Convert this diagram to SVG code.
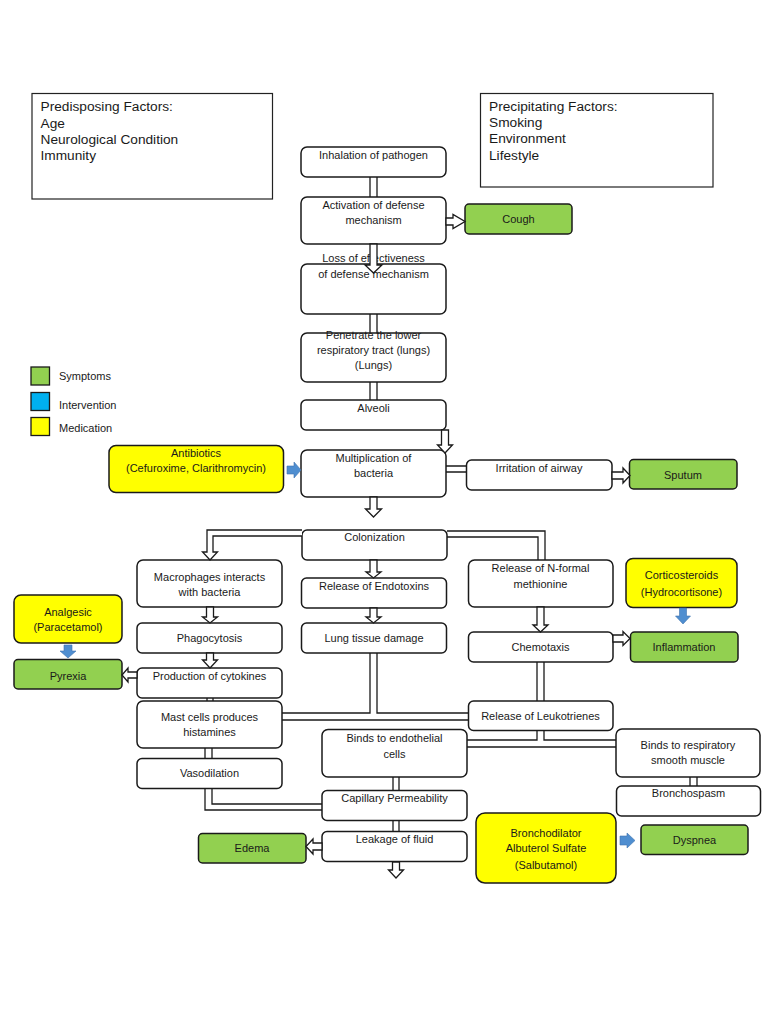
<svg xmlns="http://www.w3.org/2000/svg" width="768" height="1024" viewBox="0 0 768 1024">
<style>
.bg{fill:#fff}
.n rect{fill:#fff;stroke:#1a1a1a;stroke-width:1.5}
.g rect{fill:#92D050;stroke:#1a1a1a;stroke-width:1.5}
.y rect{fill:#FFFF00;stroke:#1a1a1a;stroke-width:1.5}
.f rect{fill:#fff;stroke:#222;stroke-width:1.2}
.t{font-family:"Liberation Sans",Arial,sans-serif;font-size:11px;fill:#1a1a1a;text-anchor:middle}
.ft{font-family:"Liberation Sans",Arial,sans-serif;font-size:13.7px;fill:#1a1a1a}
.lt{font-family:"Liberation Sans",Arial,sans-serif;font-size:11px;fill:#1a1a1a}
.c path.h{fill:#fff;stroke:#1a1a1a;stroke-width:1.3;stroke-linejoin:miter}
.c path.l{fill:none;stroke:#1a1a1a;stroke-width:1.3}
.c path.b{fill:#4F8ED0;stroke:#3F74AE;stroke-width:0.6}
</style>
<rect class="bg" x="0" y="0" width="768" height="1024"/>

<g id="predisposing" class="f">
<rect x="32" y="93.5" width="240.5" height="105.5"/>
<text class="ft" x="40.5" y="111">Predisposing Factors:</text>
<text class="ft" x="40.5" y="128">Age</text>
<text class="ft" x="40.5" y="144">Neurological Condition</text>
<text class="ft" x="40.5" y="160">Immunity</text>
</g>
<g id="precipitating" class="f">
<rect x="480.5" y="93.5" width="232.5" height="93.5"/>
<text class="ft" x="489" y="111">Precipitating Factors:</text>
<text class="ft" x="489" y="127">Smoking</text>
<text class="ft" x="489" y="143">Environment</text>
<text class="ft" x="489" y="160">Lifestyle</text>
</g>

<g id="legend">
<rect x="31" y="367" width="18.5" height="18" fill="#92D050" stroke="#1a1a1a" stroke-width="1.3"/>
<rect x="31" y="392.5" width="18.5" height="18" fill="#00B0F0" stroke="#1a1a1a" stroke-width="1.3"/>
<rect x="31" y="417.5" width="18.5" height="18" fill="#FFFF00" stroke="#1a1a1a" stroke-width="1.3"/>
<text class="lt" x="59" y="380">Symptoms</text>
<text class="lt" x="59" y="409">Intervention</text>
<text class="lt" x="59" y="432">Medication</text>
</g>

<g id="inhalation" class="n"><rect x="301" y="147" width="145" height="30" rx="6"/><text class="t" x="373.5" y="158.5">Inhalation of pathogen</text></g>
<g id="activation" class="n"><rect x="301" y="197" width="145" height="47" rx="6"/><text class="t" x="373.5" y="209">Activation of defense</text><text class="t" x="373.5" y="224">mechanism</text></g>
<g id="cough" class="g"><rect x="465" y="204" width="107" height="30" rx="4"/><text class="t" x="518.5" y="223">Cough</text></g>
<g id="loss" class="n"><rect x="301" y="264" width="145" height="50" rx="6"/><text class="t" x="373.5" y="262">Loss of effectiveness</text><text class="t" x="373.5" y="278">of defense mechanism</text></g>
<g id="penetrate" class="n"><rect x="301" y="333" width="145" height="49" rx="6"/><text class="t" x="373.5" y="339">Penetrate the lower</text><text class="t" x="373.5" y="354">respiratory tract (lungs)</text><text class="t" x="373.5" y="369">(Lungs)</text></g>
<g id="alveoli" class="n"><rect x="301" y="400" width="145" height="30" rx="5"/><text class="t" x="373.5" y="412">Alveoli</text></g>
<g id="multiplication" class="n"><rect x="301" y="450" width="145" height="47" rx="6"/><text class="t" x="373.5" y="462">Multiplication of</text><text class="t" x="373.5" y="477">bacteria</text></g>
<g id="antibiotics" class="y"><rect x="109" y="445.5" width="174.5" height="47" rx="7"/><text class="t" x="196" y="457">Antibiotics</text><text class="t" x="196" y="472">(Cefuroxime, Clarithromycin)</text></g>
<g id="irritation" class="n"><rect x="466.5" y="460" width="145.5" height="30" rx="5"/><text class="t" x="539" y="472">Irritation of airway</text></g>
<g id="sputum" class="g"><rect x="629.5" y="459.5" width="107.5" height="29.5" rx="4"/><text class="t" x="683" y="479">Sputum</text></g>
<g id="colonization" class="n"><rect x="302" y="530" width="145" height="30" rx="5"/><text class="t" x="374.5" y="541">Colonization</text></g>
<g id="macrophages" class="n"><rect x="137" y="560" width="145" height="47" rx="6"/><text class="t" x="209.5" y="581">Macrophages interacts</text><text class="t" x="209.5" y="596">with bacteria</text></g>
<g id="endotoxins" class="n"><rect x="301.5" y="578" width="145" height="30" rx="5"/><text class="t" x="374" y="590">Release of Endotoxins</text></g>
<g id="nformal" class="n"><rect x="468.5" y="560" width="144.5" height="47" rx="6"/><text class="t" x="540.5" y="572">Release of N-formal</text><text class="t" x="540.5" y="588">methionine</text></g>
<g id="corticosteroids" class="y"><rect x="626" y="558.5" width="111" height="49" rx="7"/><text class="t" x="681.5" y="579">Corticosteroids</text><text class="t" x="681.5" y="596">(Hydrocortisone)</text></g>
<g id="analgesic" class="y"><rect x="14" y="595" width="108" height="48" rx="7"/><text class="t" x="68" y="616">Analgesic</text><text class="t" x="68" y="631">(Paracetamol)</text></g>
<g id="phagocytosis" class="n"><rect x="137" y="623" width="145" height="30" rx="5"/><text class="t" x="209.5" y="642">Phagocytosis</text></g>
<g id="lungtissue" class="n"><rect x="301.5" y="623" width="145" height="30" rx="5"/><text class="t" x="374" y="642">Lung tissue damage</text></g>
<g id="chemotaxis" class="n"><rect x="468.5" y="632" width="144.5" height="30" rx="5"/><text class="t" x="540.5" y="651">Chemotaxis</text></g>
<g id="inflammation" class="g"><rect x="630.5" y="632" width="107.5" height="30" rx="4"/><text class="t" x="684" y="651">Inflammation</text></g>
<g id="pyrexia" class="g"><rect x="14" y="659.5" width="108" height="29.5" rx="4"/><text class="t" x="68" y="680">Pyrexia</text></g>
<g id="cytokines" class="n"><rect x="137" y="668" width="145" height="30" rx="5"/><text class="t" x="209.5" y="680">Production of cytokines</text></g>
<g id="mastcells" class="n"><rect x="137" y="701" width="145" height="47" rx="6"/><text class="t" x="209.5" y="721">Mast cells produces</text><text class="t" x="209.5" y="736">histamines</text></g>
<g id="leukotrienes" class="n"><rect x="468.5" y="701" width="144.5" height="29.5" rx="5"/><text class="t" x="540.5" y="720">Release of Leukotrienes</text></g>
<g id="endothelial" class="n"><rect x="322" y="729.5" width="145" height="47.5" rx="6"/><text class="t" x="394.5" y="742">Binds to endothelial</text><text class="t" x="394.5" y="758">cells</text></g>
<g id="respiratory" class="n"><rect x="616" y="729" width="144" height="48" rx="6"/><text class="t" x="688" y="749">Binds to respiratory</text><text class="t" x="688" y="764">smooth muscle</text></g>
<g id="vasodilation" class="n"><rect x="137" y="758.5" width="145" height="30" rx="5"/><text class="t" x="209.5" y="777">Vasodilation</text></g>
<g id="bronchospasm" class="n"><rect x="616.5" y="786" width="144" height="30" rx="5"/><text class="t" x="688.5" y="797">Bronchospasm</text></g>
<g id="capillary" class="n"><rect x="322" y="790.5" width="145" height="30" rx="5"/><text class="t" x="394.5" y="802">Capillary Permeability</text></g>
<g id="bronchodilator" class="y"><rect x="476" y="813" width="140" height="70" rx="9"/><text class="t" x="546" y="837">Bronchodilator</text><text class="t" x="546" y="852">Albuterol Sulfate</text><text class="t" x="546" y="869">(Salbutamol)</text></g>
<g id="dyspnea" class="g"><rect x="641" y="825" width="107" height="29.5" rx="4"/><text class="t" x="694.5" y="844">Dyspnea</text></g>
<g id="leakage" class="n"><rect x="322" y="831.5" width="145" height="30" rx="5"/><text class="t" x="394.5" y="843">Leakage of fluid</text></g>
<g id="edema" class="g"><rect x="198.5" y="833.5" width="107.5" height="29.5" rx="4"/><text class="t" x="252" y="852">Edema</text></g>

<g id="connectors" class="c">
<path class="l" d="M370,177V197M377,177V197"/>
<path class="h" d="M370,244H377V265H382L373.5,273L365,265H370Z"/>
<path class="h" d="M446,218H453V214.5L465,221.5L453,228.5V225H446Z"/>
<path class="l" d="M370,314V333M377,314V333"/>
<path class="l" d="M370,382V400M377,382V400"/>
<path class="h" d="M441.5,430H448.5V445H452.5L445,453L437.5,445H441.5Z"/>
<path class="b" d="M287,466H294V462L301,470L294,478V474H287Z"/>
<path class="l" d="M446,466H466.5M446,472H466.5"/>
<path class="h" d="M612,472H623V468L630,475.5L623,483V479H612Z"/>
<path class="h" d="M370,497H377V509H381.5L373.5,517L365.5,509H370Z"/>
<path class="h" d="M302,530H207V552H202.5L210,560L217.5,552H213V536H302"/>
<path class="l" d="M447,531H545V560M447,537H538V560"/>
<path class="h" d="M370,560H377V572H381L373.5,578L366,572H370Z"/>
<path class="h" d="M370,608H377V617H381L373.5,623L366,617H370Z"/>
<path class="h" d="M206.5,607H213.5V617H217.5L210,623L202.5,617H206.5Z"/>
<path class="h" d="M537,607H544V625H548L540.5,632L533,625H537Z"/>
<path class="b" d="M679.5,608H686.5V616H690.5L683,624L675.5,616H679.5Z"/>
<path class="b" d="M64,645H72V651H76L68,658L60,651H64Z"/>
<path class="h" d="M206.5,653H213.5V660H217.5L210,668L202.5,660H206.5Z"/>
<path class="h" d="M613,635H623V631.5L630,638.5L623,645.5V642H613Z"/>
<path class="h" d="M137,672H128V668L122,675L128,682V678H137Z"/>
<path class="l" d="M207,698V701M213,698V701"/>
<path class="l" d="M537,662V701M544,662V701"/>
<path class="l" d="M370,653V713H282M377,653V713H468.5M282,720H468.5"/>
<path class="l" d="M537,730.5V740H467M544,730.5V740H616M467,747H616"/>
<path class="l" d="M205,748V758.5M212,748V758.5"/>
<path class="l" d="M393,777V790.5M399,777V790.5"/>
<path class="l" d="M690,777V786M697,777V786"/>
<path class="l" d="M205,788.5V810H322M212,788.5V804H322"/>
<path class="l" d="M393,820.5V831.5M399,820.5V831.5"/>
<path class="b" d="M620,836H627V833L635,840.5L627,848V845H620Z"/>
<path class="h" d="M322,843H313V839L306,846.5L313,854V850H322Z"/>
<path class="h" d="M392.5,862H399.5V870H403.5L396,878L388.5,870H392.5Z"/>
</g>
</svg>
